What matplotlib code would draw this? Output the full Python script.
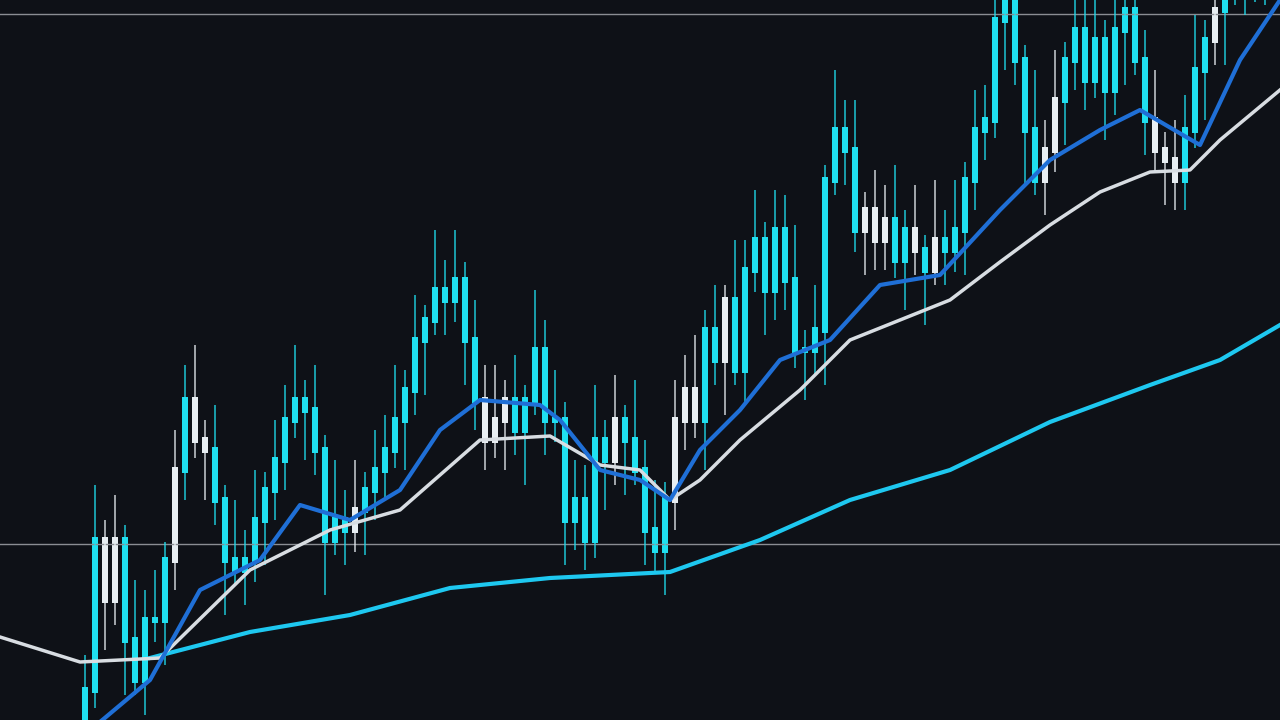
import numpy as np
import matplotlib.pyplot as plt

# candle closes, in chart units (screen-like, smaller = higher price)
closes = [690, 540, 600, 540, 640, 680, 620, 620, 560,
          470, 400, 440, 450, 500, 560,
          570, 560, 520,
          490, 460, 420, 400, 410, 450,
          540, 520, 530,
          510, 490, 470, 450, 420,
          390, 340, 320, 290, 300, 280, 340,
          400, 440, 420, 400, 430,
          400, 350, 420,
          420, 520, 500, 540,
          440, 460, 420, 440, 470,
          530, 550, 500,
          420, 390, 420,
          330, 360, 300, 370,
          270, 240, 290, 230, 280, 350,
          350, 330,
          180, 130, 150, 230,
          210, 240, 220, 260, 230, 250, 270, 240, 250,
          230, 180, 130, 120,
          20, 0, 60, 130, 180, 150, 100, 60, 30, 80, 40, 90, 30, 10,
          60, 120, 150, 160, 180, 130, 70, 40, 10, -10, -30, -20, -40, -50]
first_open = 720
wick_up = [35, 55, 20, 45, 15, 60, 30, 50, 18, 40]
wick_dn = [30, 18, 50, 25, 55, 15, 35, 22, 45, 30]
white_idx = [2, 3, 9, 11, 12, 27, 40, 41, 42, 53, 59, 60, 61, 64, 78, 79, 80, 83, 85,
             96, 97, 107, 108, 109, 113]

# moving averages sampled along the chart (x, y)
slow_x = [150, 250, 350, 450, 550, 670, 760, 850, 950, 1050, 1150, 1220, 1280]
slow_y = [658, 632, 615, 588, 578, 572, 540, 500, 470, 422, 385, 360, 325]
white_x = [0, 80, 160, 250, 330, 400, 480, 550, 600, 640, 670, 700, 740, 800, 850,
           900, 950, 1000, 1050, 1100, 1150, 1190, 1220, 1280]
white_y = [637, 662, 658, 570, 530, 510, 440, 436, 465, 470, 500, 480, 440, 390, 340,
           320, 300, 262, 225, 192, 172, 170, 140, 90]
blue_x = [100, 150, 200, 260, 300, 350, 400, 440, 480, 540, 560, 600, 640, 670, 700,
          740, 780, 830, 880, 940, 1000, 1050, 1100, 1140, 1200, 1240, 1280]
blue_y = [722, 680, 590, 560, 505, 520, 490, 430, 400, 405, 420, 470, 480, 500, 450,
          410, 360, 340, 285, 275, 210, 160, 130, 110, 145, 60, 0]

bg = '#0e1117'
fig = plt.figure(figsize=(12.8, 7.2), dpi=100)
ax = fig.add_axes([0, 0, 1, 1])
ax.set_facecolor(bg)
fig.patch.set_facecolor(bg)

ax.axhline(14, color='#8a8d93', lw=1)
ax.axhline(544, color='#8a8d93', lw=1)

opens = [first_open] + closes[:-1]
for i, (o, c) in enumerate(zip(opens, closes)):
    x = 85 + 10 * i
    top = min(o, c)
    bot = max(o, c)
    col = '#e8eef2' if i in white_idx else '#1fe0f0'
    ax.vlines(x, top - wick_up[i % 10], bot + wick_dn[i % 10], color=col, lw=1.2, alpha=0.8)
    ax.bar(x, bot - top + 6, bottom=top - 3, width=6.5, color=col)

ax.plot(slow_x, slow_y, color='#1ec8f0', lw=3, solid_joinstyle='round')
ax.plot(white_x, white_y, color='#d8dde2', lw=2.5, solid_joinstyle='round')
ax.plot(blue_x, blue_y, color='#1f6fd6', lw=3, solid_joinstyle='round')

ax.set_xlim(0, 1280)
ax.set_ylim(720, 0)
ax.axis('off')
fig.savefig('out.png', dpi=100, facecolor=bg)
